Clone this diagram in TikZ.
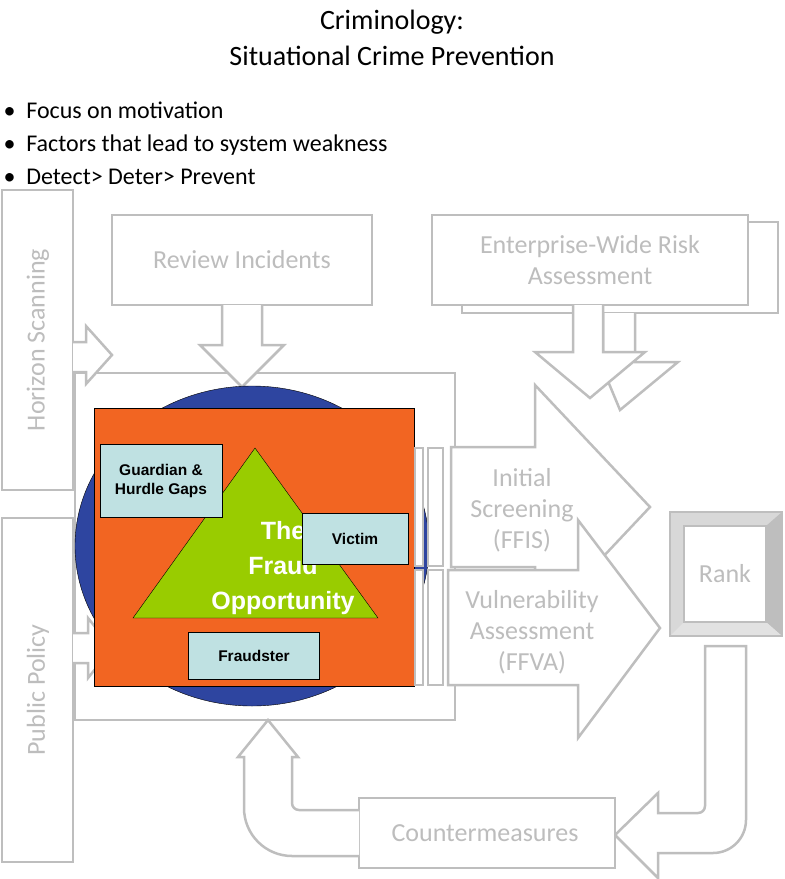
\documentclass[tikz,border=0pt]{standalone}
\usepackage{fontspec}
\setmainfont{Carlito}
\newfontfamily\arialfont{Liberation Sans}
\definecolor{outl}{HTML}{BEBEBE}
\definecolor{lbl}{HTML}{BDBDBD}
\definecolor{oran}{HTML}{F26522}
\definecolor{blu}{HTML}{2E45A0}
\definecolor{grn}{HTML}{99CC00}
\definecolor{teal}{HTML}{BFE1E2}
\begin{document}
\begin{tikzpicture}[x=1pt,y=-1pt,
  block/.style={draw=outl,line width=2.5pt,fill=white,line join=miter},
  lab/.style={text=lbl,font=\fontsize{26}{31}\selectfont,align=center},
  tag/.style={draw=black,fill=teal,font=\arialfont\bfseries\fontsize{15.5}{19}\selectfont,align=center,inner sep=0pt}]
\useasboundingbox (0,0) rectangle (785,879);

% title and bullets
\node[font=\fontsize{28}{36}\selectfont,align=center] (title) at (392,38) {Criminology:\\Situational Crime Prevention};
\node[font=\fontsize{24}{33}\selectfont,align=left,anchor=north west] (bullets) at (0,98)
  {\textbullet\ \ Focus on motivation\\\textbullet\ \ Factors that lead to system weakness\\\textbullet\ \ Detect> Deter> Prevent};

% frame round the opportunity
\draw[block] (75,373) rectangle (455,720);

% left side inputs
\draw[block] (2,190) rectangle (73,490);
\node[lab,rotate=90] (horizon) at (38,340) {Horizon Scanning};
\draw[block] (73,342) -- (86,342) -- (86,326) -- (112,355) -- (86,384) -- (86,372) -- (73,372);
\draw[block] (2,518) rectangle (73,862);
\node[lab,rotate=90] (policy) at (38,690) {Public Policy};
\draw[block] (73,633) -- (88,633) -- (88,618) -- (112,648) -- (88,678) -- (88,663) -- (73,663);

% top inputs
\draw[block] (112,215) rectangle (372,305);
\node[lab] (review) at (242,260) {Review Incidents};
\draw[block] (222,305) -- (222,345) -- (200,345) -- (242,387) -- (284,345) -- (262,345) -- (262,305);
\draw[block] (462,222) rectangle (778,313);
\draw[block] (603,313) -- (603,362) -- (600,362) -- (620,410) -- (678,362) -- (635,362) -- (635,313);
\draw[block] (432,215) rectangle (748,305);
\node[lab] (risk) at (590,260) {Enterprise-Wide Risk\\Assessment};
\draw[block] (573,305) -- (573,352) -- (535,352) -- (590,398) -- (645,352) -- (603,352) -- (603,305);

% the opportunity
\fill[blu,draw=black] (252,546) ellipse (177 and 160);
\draw[fill=oran] (94,408) rectangle (414,686);
\fill[grn,draw=black] (255,448) -- (378,618) -- (133,618) -- cycle;
\node[text=white,font=\arialfont\bfseries\fontsize{25}{35}\selectfont,align=center] (fraud) at (283,568) {The\\Fraud\\Opportunity};
\node[tag,minimum width=122,minimum height=73] (guard) at (161,481) {Guardian \&\\Hurdle Gaps};
\node[tag,minimum width=106,minimum height=51] (victim) at (355,539) {Victim};
\node[tag,minimum width=131,minimum height=47] (fraudster) at (254,656) {Fraudster};

% screening arrows
\draw[block,line width=2pt] (415,448) rectangle (423,566);
\draw[block,line width=2pt] (415,570) rectangle (423,685);
\draw[block,line width=2pt] (428,448) rectangle (443,566);
\draw[block,line width=2pt] (428,570) rectangle (443,685);
\draw[block] (451,447) -- (535,447) -- (535,385) -- (650,507) -- (535,629) -- (535,567) -- (451,567) -- cycle;
\node[lab] (ffis) at (522,510) {Initial\\Screening\\(FFIS)};
\draw[block] (448,570) -- (578,570) -- (578,520) -- (660,628) -- (578,738) -- (578,685) -- (448,685) -- cycle;
\node[lab] (ffva) at (532,632) {Vulnerability\\Assessment\\(FFVA)};

% rank button
\fill[outl!60] (670,512) rectangle (782,636);
\fill[outl] (766,526) -- (782,512) -- (782,636) -- (766,622) -- cycle;
\fill[outl!45] (684,622) -- (766,622) -- (782,636) -- (670,636) -- cycle;
\fill[white] (684,526) rectangle (766,622);
\draw[outl,line width=1.5pt] (670,512) rectangle (782,636) (684,526) rectangle (766,622);
\node[lab] (rank) at (725,574) {Rank};

% feedback loop
\draw[block] (705,646) -- (746,646) -- (746,820) arc (0:90:33) -- (658,853) -- (658,878) -- (615,835) -- (658,793) -- (658,813) -- (698,813) arc (90:0:7) -- cycle;
\draw[block] (359,798) rectangle (615,868);
\node[lab] (counter) at (485,833) {Countermeasures};
\draw[block] (359,856) -- (292,856) arc (90:180:48) -- (244,757) -- (238,757) -- (268,720) -- (298,757) -- (292,757) -- (292,803) arc (180:90:7) -- (359,810);
\end{tikzpicture}
\end{document}
